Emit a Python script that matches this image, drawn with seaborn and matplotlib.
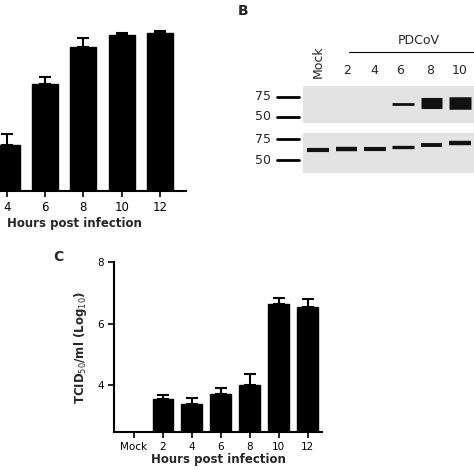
import matplotlib
matplotlib.use("Agg")
import matplotlib.pyplot as plt
import seaborn as sns
import numpy as np
import pandas as pd

sns.set_style("white")
plt.rcParams['font.family'] = ['DejaVu Sans']

# Panel A data (visible part)
a_hours = ['4', '6', '8', '10', '12']
a_values = [27.6, 64.2, 86.4, 93.6, 94.8]
a_errors = [6.6, 4.2, 5.4, 1.2, 1.2]

# Panel B data
b_lanes = ['Mock', '2', '4', '6', '8', '10']
b_top_band = [0, 0, 0, 2.0, 8.0, 9.0]      # band strength (line width)
b_bottom_band = [3.0, 3.2, 3.0, 2.4, 2.8, 3.2]
b_markers = ['75', '50']

# Panel C data
c_hours = ['Mock', '2', '4', '6', '8', '10', '12']
c_values = [0, 3.55, 3.40, 3.70, 4.00, 6.65, 6.55]
c_errors = [0, 0.12, 0.20, 0.22, 0.35, 0.17, 0.25]
c_yticks = [4, 6, 8]

W = 474
def rect(x0, y0, x1, y1):
    return [x0 / W, 1 - y1 / W, (x1 - x0) / W, (y1 - y0) / W]

fig = plt.figure(figsize=(4.74, 4.74), dpi=100)

# ---------- Panel A ----------
axA = fig.add_axes(rect(0, 0, 186, 191))
dfA = pd.DataFrame({'h': a_hours, 'v': a_values})
sns.barplot(data=dfA, x='h', y='v', color='black', width=0.68, ax=axA, errorbar=None)
for p in axA.patches:
    p.set_edgecolor('black')
axA.errorbar(range(len(a_values)), a_values, yerr=[np.zeros(len(a_errors)), a_errors],
             fmt='none', ecolor='black', elinewidth=1.5, capsize=4, capthick=1.5)
axA.set_xlim(-0.18, 4.68)
axA.set_ylim(0, 114.6)
for s in ['top', 'right', 'left']:
    axA.spines[s].set_visible(False)
axA.spines['bottom'].set_linewidth(1.5)
axA.spines['bottom'].set_color('black')
axA.set_yticks([])
axA.tick_params(axis='x', length=4, width=1.2, colors='black', labelsize=8.5, bottom=True, pad=3)
axA.set_xlabel(''); axA.set_ylabel('')
fig.text(7 / W, 1 - 223 / W, 'Hours post infection', fontsize=8.5, fontweight='bold', va='center', ha='left')

# ---------- Panel B ----------
fig.text(243 / W, 1 - 11 / W, 'B', fontsize=10, fontweight='bold', va='center', ha='center')
lane_px = [318, 347, 374, 400, 430, 460]
for lab, xp in zip(b_lanes, lane_px):
    if lab == 'Mock':
        fig.text(xp / W, 1 - 78 / W, lab, rotation=90, fontsize=9, ha='center', va='bottom')
    else:
        fig.text(xp / W, 1 - 70 / W, lab, fontsize=9, ha='center', va='center')
fig.text(419 / W, 1 - 41 / W, 'PDCoV', fontsize=9, ha='center', va='center')
fig.add_artist(plt.Line2D([349 / W, 474 / W], [1 - 52 / W, 1 - 52 / W], color='black', lw=0.8))

def blot(y0, y1, bands, band_y, marker_y):
    ax = fig.add_axes(rect(303, y0, 474, y1))
    ax.set_facecolor('#e3e3e3')
    ax.set_xlim(-0.53, 5.5)
    ax.set_ylim(y1, y0)
    for i, (lw, by) in enumerate(zip(bands, band_y)):
        if lw > 0:
            ax.plot([i - 0.38, i + 0.38], [by, by], color='#111111', lw=lw, solid_capstyle='butt')
    ax.set_xticks([]); ax.set_yticks([])
    for s in ax.spines.values():
        s.set_visible(False)
    for m, my in zip(b_markers, marker_y):
        fig.text(263 / W, 1 - my / W, m, fontsize=9, ha='center', va='center')
        fig.add_artist(plt.Line2D([277 / W, 299 / W], [1 - my / W, 1 - my / W], color='black', lw=2))

blot(86, 123, b_top_band, [104, 104, 104, 104, 103, 103], [97, 117])
blot(133, 173, b_bottom_band, [150, 149, 149, 147, 145, 143], [139, 160])

# ---------- Panel C ----------
fig.text(58 / W, 1 - 257 / W, 'C', fontsize=10, fontweight='bold', va='center', ha='center')
axC = fig.add_axes(rect(114, 262, 322, 432))
dfC = pd.DataFrame({'h': c_hours, 'v': c_values})
sns.barplot(data=dfC, x='h', y='v', color='black', width=0.7, ax=axC, errorbar=None)
for p in axC.patches:
    p.set_edgecolor('black')
idx = [i for i, v in enumerate(c_values) if v > 0]
axC.errorbar(idx, [c_values[i] for i in idx],
             yerr=[np.zeros(len(idx)), [c_errors[i] for i in idx]],
             fmt='none', ecolor='black', elinewidth=1.5, capsize=4, capthick=1.5)
axC.set_xlim(-0.68, 6.5)
axC.set_ylim(2.48, 8)
axC.set_yticks(c_yticks)
for s in ['top', 'right']:
    axC.spines[s].set_visible(False)
for s in ['bottom', 'left']:
    axC.spines[s].set_linewidth(1.5)
    axC.spines[s].set_color('black')
axC.tick_params(axis='both', length=4, width=1.2, colors='black', labelsize=7.5, bottom=True, left=True, pad=3)
axC.set_xlabel('Hours post infection', fontsize=8.5, fontweight='bold', labelpad=1)
axC.set_ylabel('TCID$_{50}$/ml (Log$_{10}$)', fontsize=8.5, fontweight='bold', labelpad=6)

fig.savefig('out.png', dpi=100, facecolor='white')
